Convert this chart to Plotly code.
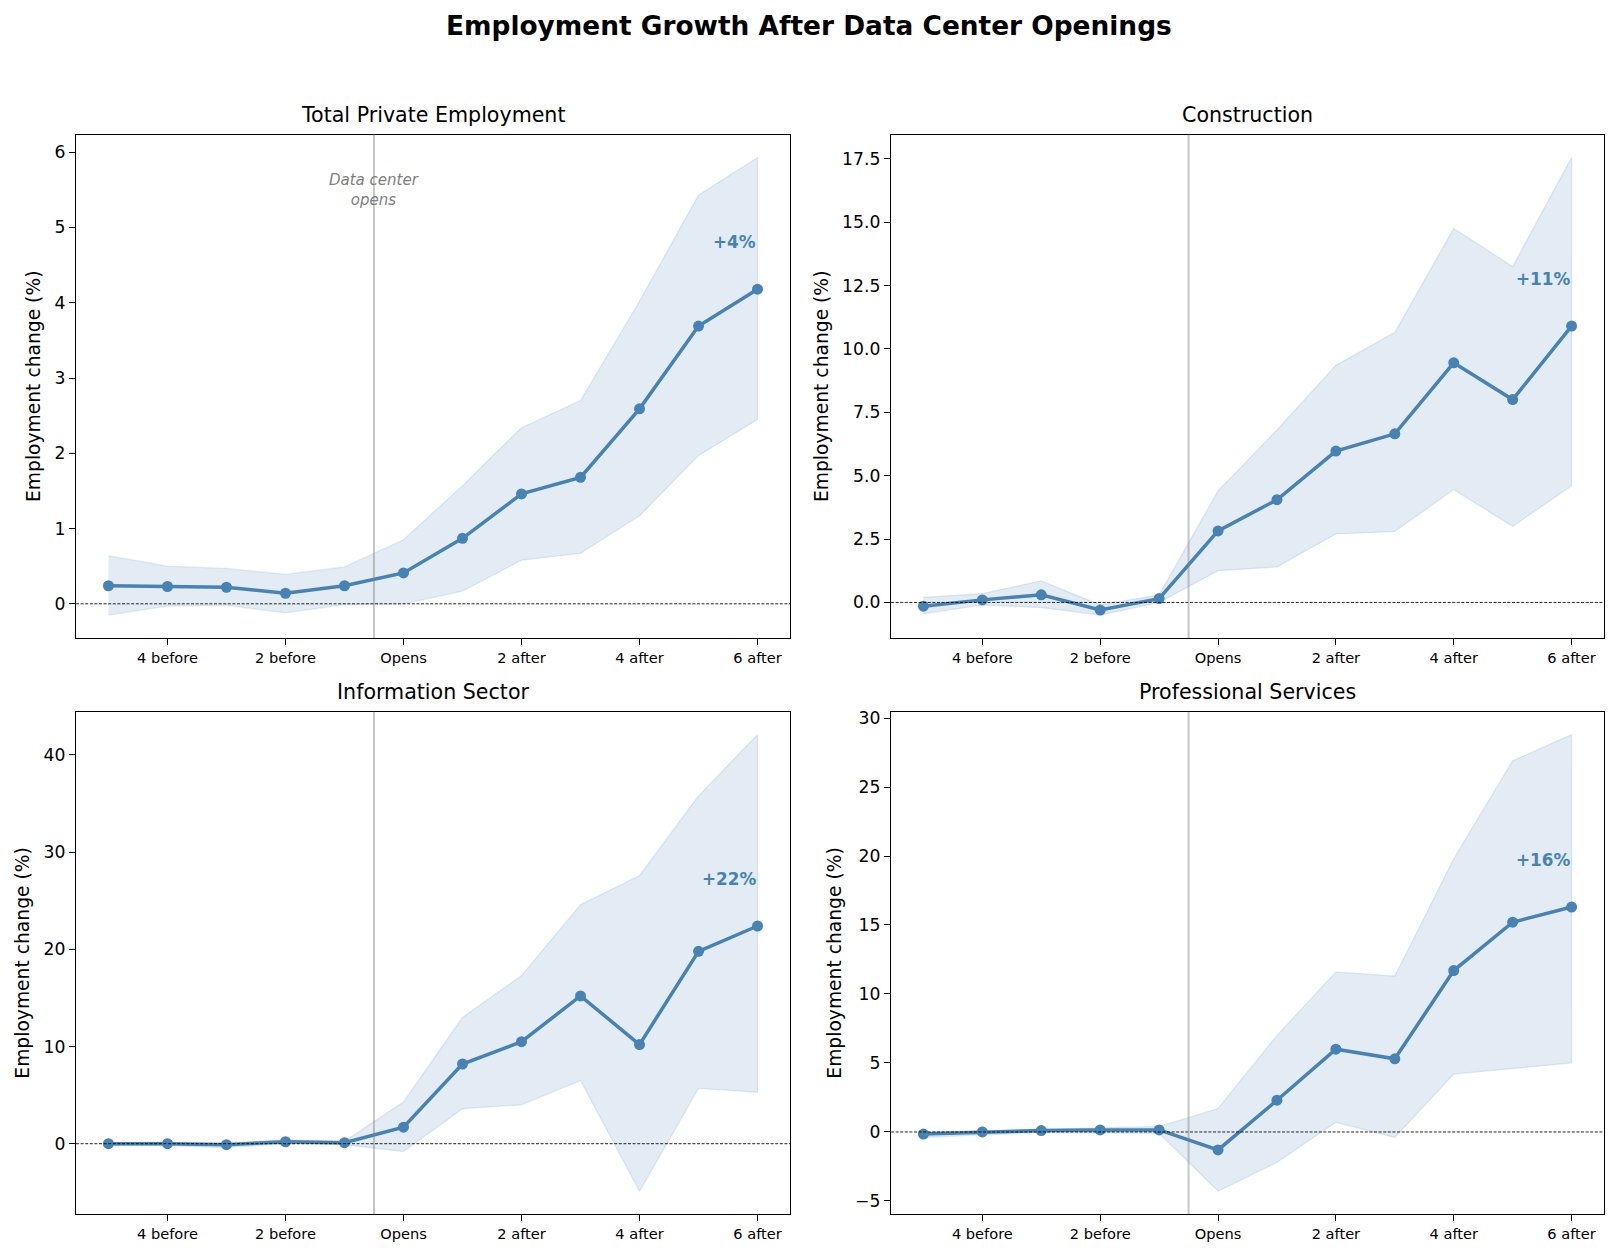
import plotly.graph_objects as go

W, H = 1617, 1258
STEEL = "#4682b4"

event_time = [-5, -4, -3, -2, -1, 0, 1, 2, 3, 4, 5, 6]
tick_vals = [-4, -2, 0, 2, 4, 6]
tick_text = ["4 before", "2 before", "Opens", "2 after", "4 after", "6 after"]

panel_titles = ["Total Private Employment", "Construction",
                "Information Sector", "Professional Services"]

total_est = [0.24, 0.23, 0.22, 0.14, 0.24, 0.41, 0.87, 1.46, 1.68, 2.59, 3.69, 4.18]
total_hi = [0.64, 0.50, 0.47, 0.39, 0.49, 0.85, 1.57, 2.34, 2.70, 4.02, 5.43, 5.93]
total_lo = [-0.15, -0.03, -0.02, -0.12, -0.01, 0.00, 0.17, 0.58, 0.67, 1.17, 1.97, 2.45]

constr_est = [-0.15, 0.10, 0.30, -0.30, 0.15, 2.82, 4.05, 5.97, 6.65, 9.45, 8.00, 10.90]
constr_hi = [0.20, 0.35, 0.85, -0.10, 0.30, 4.40, 6.80, 9.35, 10.65, 14.75, 13.25, 17.55]
constr_lo = [-0.45, -0.10, -0.20, -0.50, 0.00, 1.25, 1.40, 2.70, 2.80, 4.45, 3.00, 4.60]

info_est = [0.0, 0.0, -0.1, 0.2, 0.1, 1.7, 8.2, 10.5, 15.2, 10.2, 19.8, 22.4]
info_hi = [0.1, 0.15, 0.1, 0.4, 0.25, 4.3, 13.0, 17.3, 24.6, 27.6, 35.8, 42.1]
info_lo = [-0.2, -0.2, -0.4, 0.0, -0.1, -0.8, 3.6, 4.0, 6.5, -4.9, 5.7, 5.3]

prof_est = [-0.15, 0.0, 0.1, 0.15, 0.15, -1.3, 2.3, 6.0, 5.3, 11.7, 15.2, 16.3]
prof_hi = [0.0, 0.1, 0.25, 0.35, 0.4, 1.7, 7.0, 11.6, 11.3, 19.8, 26.9, 28.8]
prof_lo = [-0.4, -0.2, -0.05, -0.05, -0.1, -4.3, -2.2, 0.7, -0.4, 4.2, 4.6, 5.0]

labels = ["+4%", "+11%", "+22%", "+16%"]
y_ticks = [
    [0, 1, 2, 3, 4, 5, 6],
    [0.0, 2.5, 5.0, 7.5, 10.0, 12.5, 15.0, 17.5],
    [0, 10, 20, 30, 40],
    [-5, 0, 5, 10, 15, 20, 25, 30],
]
y_fmt = ["d", ".1f", "d", "d"]

series = [
    (total_est, total_hi, total_lo),
    (constr_est, constr_hi, constr_lo),
    (info_est, info_hi, info_lo),
    (prof_est, prof_hi, prof_lo),
]

x_domains = [[76 / W, 790 / W], [891 / W, 1604 / W]]
y_domains = [[1 - 636 / H, 1 - 131 / H], [1 - 1214 / H, 1 - 710 / H]]

fig = go.Figure()

xr = [min(event_time) - 0.05 * (max(event_time) - min(event_time)),
      max(event_time) + 0.05 * (max(event_time) - min(event_time))]

annotations = []
shapes = []
for i, (est, hi, lo) in enumerate(series):
    row, col = divmod(i, 2)
    n = i + 1
    xa = "x" if n == 1 else f"x{n}"
    ya = "y" if n == 1 else f"y{n}"
    xkey = "xaxis" if n == 1 else f"xaxis{n}"
    ykey = "yaxis" if n == 1 else f"yaxis{n}"

    fig.add_trace(go.Scatter(
        x=event_time + event_time[::-1], y=hi + lo[::-1],
        fill="toself", fillcolor="rgba(70,130,180,0.15)",
        line=dict(color="rgba(70,130,180,0.15)", width=1.3),
        mode="lines", hoverinfo="skip", showlegend=False,
        xaxis=xa, yaxis=ya))
    fig.add_trace(go.Scatter(
        x=event_time, y=est, mode="lines+markers",
        line=dict(color=STEEL, width=3.5),
        marker=dict(color=STEEL, size=11),
        showlegend=False, xaxis=xa, yaxis=ya))

    lo_all = min(lo + est)
    hi_all = max(hi + est)
    pad = 0.05 * (hi_all - lo_all)
    yr = [lo_all - pad, hi_all + pad]

    fig.update_layout({
        xkey: dict(domain=x_domains[col], anchor=ya, range=xr,
                   tickvals=tick_vals, ticktext=tick_text,
                   ticks="outside", ticklen=6, tickwidth=1.4, tickcolor="black",
                   showline=True, mirror=True, linecolor="black", linewidth=1.4,
                   showgrid=False, zeroline=False,
                   tickfont=dict(family="DejaVu Sans", size=14.6, color="black")),
        ykey: dict(domain=y_domains[row], anchor=xa, range=yr,
                   tickvals=y_ticks[i], tickformat=y_fmt[i],
                   ticks="outside", ticklen=6, tickwidth=1.4, tickcolor="black",
                   showline=True, mirror=True, linecolor="black", linewidth=1.4,
                   showgrid=False, zeroline=False,
                   title=dict(text="Employment change (%)", standoff=8,
                              font=dict(family="DejaVu Sans", size=18.7, color="black")),
                   tickfont=dict(family="DejaVu Sans", size=17.2, color="black")),
    })

    # zero line
    shapes.append(dict(type="line", xref=f"{xa} domain", yref=ya,
                       x0=0, x1=1, y0=0, y1=0,
                       line=dict(color="rgba(0,0,0,0.85)", width=1, dash="3px,1.6px")))
    # opening line
    shapes.append(dict(type="line", xref=xa, yref=f"{ya} domain",
                       x0=-0.5, x1=-0.5, y0=0, y1=1,
                       line=dict(color="rgba(128,128,128,0.45)", width=2)))

    # panel title
    annotations.append(dict(text=panel_titles[i], xref=f"{xa} domain", yref=f"{ya} domain",
                            x=0.5, y=1, xanchor="center", yanchor="bottom", yshift=6,
                            showarrow=False,
                            font=dict(family="DejaVu Sans", size=20.6, color="black")))
    # final value label
    annotations.append(dict(text=f"<b>{labels[i]}</b>", xref=xa, yref=ya,
                            x=event_time[-1], y=est[-1], xanchor="right", yanchor="middle",
                            yshift=47, showarrow=False,
                            font=dict(family="DejaVu Sans", size=16.8, color=STEEL)))

annotations.append(dict(text="<i>Data center<br>opens</i>", xref="x", yref="y",
                        x=-0.5, y=5.5, xanchor="center", yanchor="middle",
                        showarrow=False,
                        font=dict(family="DejaVu Sans", size=15, color="gray")))

annotations.append(dict(text="<b>Employment Growth After Data Center Openings</b>",
                        xref="paper", yref="paper", x=0.5, y=1 - 22 / H,
                        xanchor="center", yanchor="middle", showarrow=False,
                        font=dict(family="DejaVu Sans", size=26.4, color="black")))

fig.update_layout(width=W, height=H, margin=dict(l=0, r=0, t=0, b=0),
                  paper_bgcolor="white", plot_bgcolor="white",
                  annotations=annotations, shapes=shapes)

fig.write_html("out.html")
